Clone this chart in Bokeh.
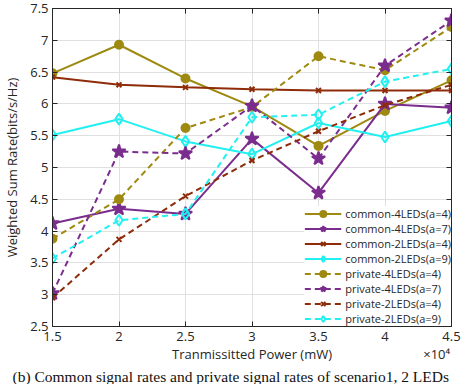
from bokeh.plotting import figure
from bokeh.models import (Range1d, LinearAxis, FixedTicker, Legend, LegendItem, Title)
from bokeh.embed import file_html
from bokeh.resources import INLINE

power = [1.5, 2.0, 2.5, 3.0, 3.5, 4.0, 4.5]  # x 10^4 mW

common_4led_a4 = [6.48, 6.93, 6.40, 5.96, 5.34, 5.89, 6.37]
common_4led_a7 = [4.12, 4.35, 4.27, 5.45, 4.60, 6.00, 5.94]
common_2led_a4 = [6.42, 6.30, 6.26, 6.23, 6.21, 6.21, 6.21]
common_2led_a9 = [5.51, 5.76, 5.41, 5.21, 5.70, 5.48, 5.73]
private_4led_a4 = [3.88, 4.50, 5.62, 5.95, 6.75, 6.53, 7.21]
private_4led_a7 = [3.02, 5.25, 5.22, 5.97, 5.14, 6.60, 7.31]
private_2led_a4 = [2.95, 3.87, 4.55, 5.11, 5.57, 5.98, 6.30]
private_2led_a9 = [3.57, 4.17, 4.27, 5.79, 5.83, 6.35, 6.55]

x_ticks = [1.5, 2, 2.5, 3, 3.5, 4, 4.5]
y_ticks = [2.5, 3, 3.5, 4, 4.5, 5, 5.5, 6, 6.5, 7, 7.5]

OLIVE = "#9E8A10"
PURPLE = "#7B2D8E"
BROWN = "#8E2C0A"
CYAN = "#22F0F0"
TXT = "#262626"
FONT = "Open Sans"
NB = "\u00a0"


def fmt(t):
    s = str(t)
    return s[:-2] if s.endswith(".0") else s


p = figure(width=466, height=384, output_backend="svg", toolbar_location=None,
           x_range=Range1d(1.5, 4.5), y_range=Range1d(2.5, 7.5),
           min_border_left=41, min_border_right=15, min_border_top=8, min_border_bottom=0)
p.outline_line_color = TXT
p.background_fill_color = "white"
p.border_fill_color = "white"

for ax in (p.xaxis[0], p.yaxis[0]):
    ax.axis_line_color = TXT
    ax.major_tick_in = 5
    ax.major_tick_out = 0
    ax.minor_tick_line_color = None
    ax.major_tick_line_color = TXT
    ax.major_label_text_font = FONT
    ax.major_label_text_font_size = "13px"
    ax.major_label_text_color = TXT
    ax.axis_label_text_font = FONT
    ax.axis_label_text_font_size = "13px"
    ax.axis_label_text_font_style = "normal"
    ax.axis_label_text_color = TXT

p.xaxis[0].ticker = FixedTicker(ticks=x_ticks)
p.yaxis[0].ticker = FixedTicker(ticks=y_ticks)
p.xaxis[0].major_label_overrides = {t: fmt(t) for t in x_ticks}
p.yaxis[0].major_label_overrides = {t: fmt(t) for t in y_ticks}
# axis label with the x10^4 multiplier pushed to the right end of the axis
p.xaxis[0].axis_label = NB * 35 + "Tranmissitted Power (mW)" + NB * 27 + "×10⁴"
p.yaxis[0].axis_label = "Weighted Sum Rate(bits/s/Hz)"
p.xaxis[0].major_label_standoff = 5
p.xaxis[0].axis_label_standoff = 1
p.yaxis[0].major_label_standoff = 4
p.yaxis[0].axis_label_standoff = 6

top = LinearAxis(ticker=FixedTicker(ticks=x_ticks),
                 major_label_overrides={t: "" for t in x_ticks},
                 major_label_standoff=0,
                 major_tick_in=5, major_tick_out=0, minor_tick_line_color=None,
                 axis_line_color=TXT, major_tick_line_color=TXT)
right = LinearAxis(ticker=FixedTicker(ticks=y_ticks),
                   major_label_overrides={t: "" for t in y_ticks},
                   major_tick_in=5, major_tick_out=0, minor_tick_line_color=None,
                   axis_line_color=TXT, major_tick_line_color=TXT)
p.add_layout(top, "above")
p.add_layout(right, "right")

p.xgrid.ticker = FixedTicker(ticks=x_ticks)
p.ygrid.ticker = FixedTicker(ticks=y_ticks)
p.grid.grid_line_color = "#E0E0E0"
p.grid.grid_line_width = 1

items = []


def series(ys, color, marker, dash, size, label):
    r1 = p.line(power, ys, line_color=color, line_width=2, line_dash=dash)
    if marker == "x":
        r2 = p.scatter(power, ys, marker="x", size=size, line_color=color, line_width=2)
    else:
        r2 = p.scatter(power, ys, marker=marker, size=size, line_color=color,
                       fill_color=color if marker in ("circle", "star") else None, line_width=2)
    items.append(LegendItem(label=label, renderers=[r1, r2]))


series(common_4led_a4, OLIVE, "circle", "solid", 8, "common-4LEDs(a=4)")
series(common_4led_a7, PURPLE, "star", "solid", 14, "common-4LEDs(a=7)")
series(common_2led_a4, BROWN, "x", "solid", 7, "common-2LEDs(a=4)")
series(common_2led_a9, CYAN, "diamond", "solid", 11, "common-2LEDs(a=9)")
series(private_4led_a4, OLIVE, "circle", "6 4", 8, "private-4LEDs(a=4)")
series(private_4led_a7, PURPLE, "star", "6 4", 14, "private-4LEDs(a=7)")
series(private_2led_a4, BROWN, "x", "6 4", 7, "private-2LEDs(a=4)")
series(private_2led_a9, CYAN, "diamond", "6 4", 11, "private-2LEDs(a=9)")

legend = Legend(items=items, location="bottom_right", margin=0, padding=1,
                spacing=0, glyph_width=37, glyph_height=15, label_standoff=4,
                label_text_font=FONT, label_text_font_size="11px", label_text_color=TXT,
                label_height=15, border_line_color=None, background_fill_color="white",
                background_fill_alpha=1.0)
p.add_layout(legend, "center")

caption = Title(text="(b) Common signal rates and private signal rates of scenario1, 2 LEDs",
                align="left", offset=-40, standoff=0,
                text_font="Liberation Serif", text_font_size="15.5px", text_color="#111111",
                text_font_style="normal")
p.add_layout(caption, "below")

open("out.html", "w").write(file_html(p, INLINE))
